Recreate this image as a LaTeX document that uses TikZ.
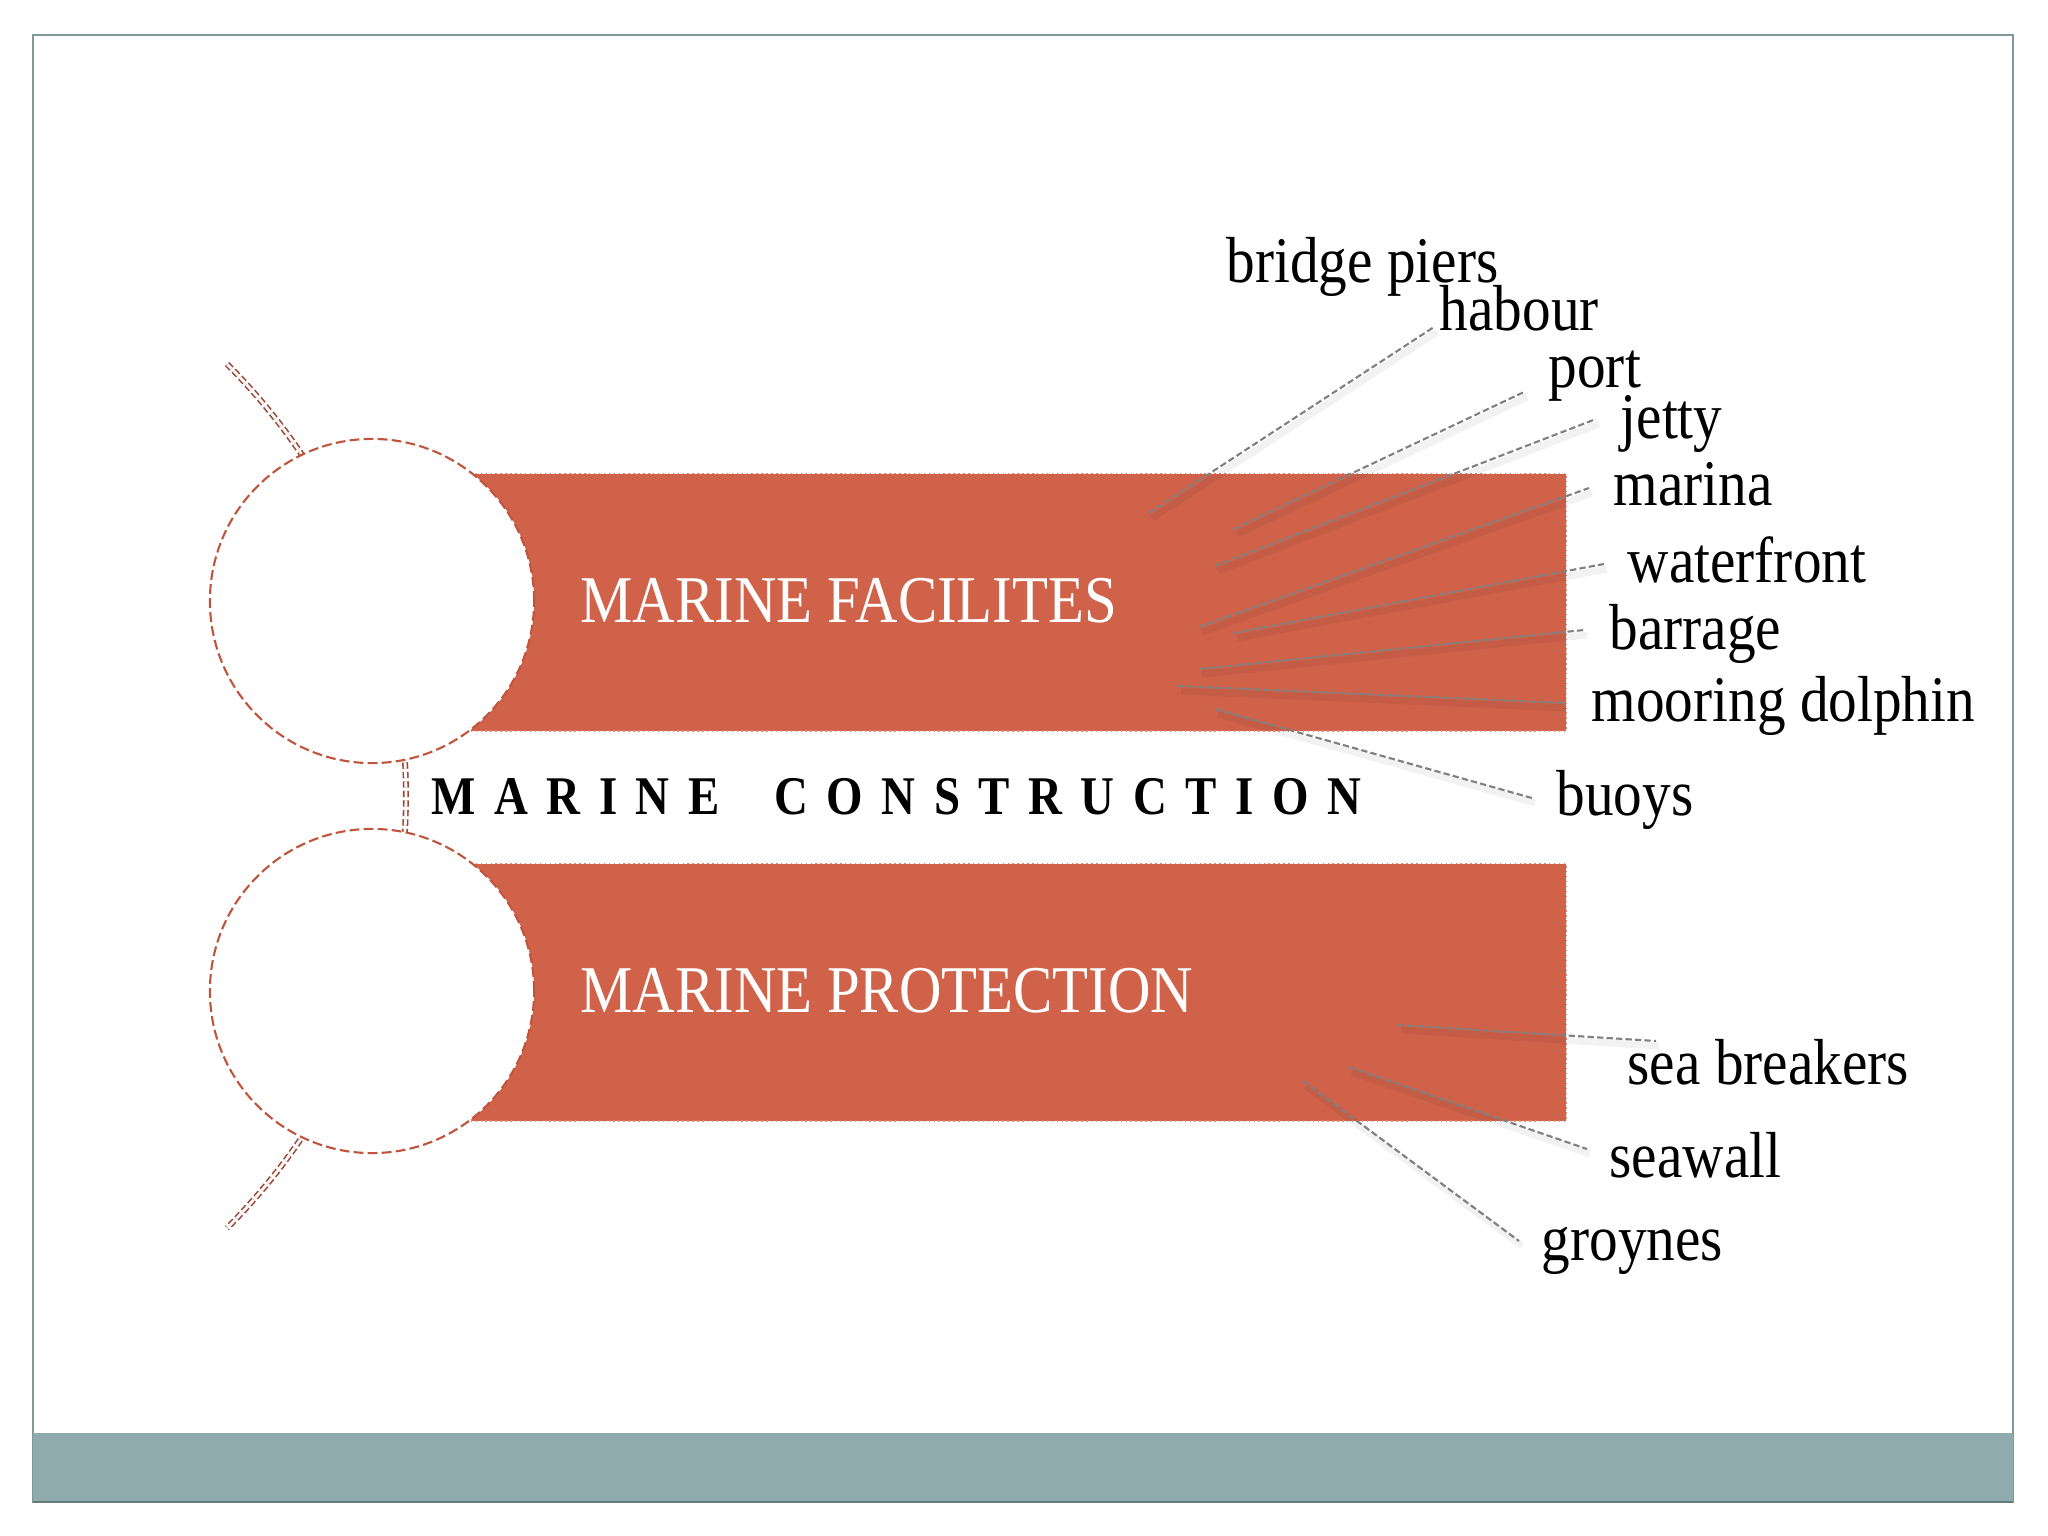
\documentclass[tikz,border=0pt]{standalone}
\usepackage{fontspec}
\setmainfont{Liberation Serif}
\newfontfamily\lblfont[FakeStretch=0.88]{Liberation Serif}
\newfontfamily\ttlfont[FakeStretch=0.86,LetterSpace=34]{Liberation Serif}
\definecolor{rectcol}{HTML}{D0624A}
\definecolor{rectedge}{HTML}{E3866F}
\definecolor{circedge}{HTML}{C0553E}
\definecolor{arccol}{HTML}{9C4535}
\definecolor{linegrey}{HTML}{808080}
\definecolor{framecol}{HTML}{7E9A98}
\definecolor{barcol}{HTML}{8FABAE}
\tikzset{
  boxstyle/.style={fill=rectcol, draw=rectedge, densely dotted, line width=0.4pt, inner sep=0pt, anchor=north west, minimum width=10.95cm, minimum height=2.57cm},
  circstyle/.style={circle, fill=white, draw=circedge, line width=0.6pt, dash pattern=on 2.8pt off 1.2pt, inner sep=0pt, minimum size=3.24cm},
  arcstyle/.style={draw=arccol, line width=0.45pt, double=white, double distance=0.8pt, dash pattern=on 1.8pt off 0.9pt},
  lbl/.style={font=\lblfont\fontsize{18.5}{20}\selectfont, text=black, inner sep=0pt, anchor=base west},
  heading/.style={font=\lblfont\fontsize{19}{21}\selectfont, text=white, inner sep=0pt, anchor=base west},
  conn/.style={draw=linegrey, line width=0.6pt, dash pattern=on 1.8pt off 0.9pt},
  shadowline/.style={draw=black, opacity=0.05, line width=2pt},
}
\begin{document}
\begin{tikzpicture}[x=0.01cm,y=-0.01cm]
\useasboundingbox (0,0) rectangle (2048,1536);
\fill[white] (0,0) rectangle (2048,1536);
% frame and bottom bar
\draw[framecol, line width=0.6pt] (33,35) rectangle (2013,1502);
\fill[barcol] (33,1433) rectangle (2013,1502);
\draw[framecol!80!black, line width=0.6pt] (33,1502) -- (2013,1502);
% big arc behind the circles
\draw[arcstyle] (227,364) arc[start angle=-45, end angle=45, radius=611];
% bars
\node (fac) [boxstyle] at (470,473) {};
\node (pro) [boxstyle] at (470,863) {};
% circles
\node (c1) [circstyle] at (372,601) {};
\node (c2) [circstyle] at (372,991) {};
% headings
\node (hfac) [heading] at (580,622) {MARINE FACILITES};
\node (hpro) [heading] at (580,1012) {MARINE PROTECTION};
\node (title) [inner sep=0pt, anchor=base west, font=\ttlfont\bfseries\fontsize{15.5}{17}\selectfont] at (431,814) {MARINE\hspace{0.45em} CONSTRUCTION};
% labels
\node (l1) [lbl] at (1226,282) {bridge piers};
\node (l2) [lbl] at (1439,330) {habour};
\node (l3) [lbl] at (1548,387) {port};
\node (l4) [lbl] at (1620,438) {jetty};
\node (l5) [lbl] at (1613,505) {marina};
\node (l6) [lbl] at (1627,582) {waterfront};
\node (l7) [lbl] at (1609,649) {barrage};
\node (l8) [lbl] at (1591,721) {mooring dolphin};
\node (l9) [lbl] at (1556,815) {buoys};
\node (l10) [lbl] at (1627,1084) {sea breakers};
\node (l11) [lbl] at (1609,1177) {seawall};
\node (l12) [lbl] at (1541,1260) {groynes};
% connector ends
\coordinate (a2) at (1149,513);  \coordinate (b2) at (1434,327);
\coordinate (a3) at (1234,529);  \coordinate (b3) at (1524,392);
\coordinate (a4) at (1215,566);  \coordinate (b4) at (1596,419);
\coordinate (a5) at (1199,627);  \coordinate (b5) at (1589,488);
\coordinate (a6) at (1234,633);  \coordinate (b6) at (1604,564);
\coordinate (a7) at (1199,669);  \coordinate (b7) at (1584,630);
\coordinate (a8) at (1178,686);  \coordinate (b8) at (1565,703);
\coordinate (a9) at (1215,709);  \coordinate (b9) at (1532,798);
\coordinate (a10) at (1398,1025); \coordinate (b10) at (1656,1041);
\coordinate (a11) at (1349,1067); \coordinate (b11) at (1587,1149);
\coordinate (a12) at (1303,1081); \coordinate (b12) at (1519,1241);
\foreach \i in {2,...,12}{
  \draw[shadowline] ([shift={(3,5)}]a\i) -- ([shift={(3,5)}]b\i);
  \draw[conn] (a\i) -- (b\i);
}
\end{tikzpicture}
\end{document}
